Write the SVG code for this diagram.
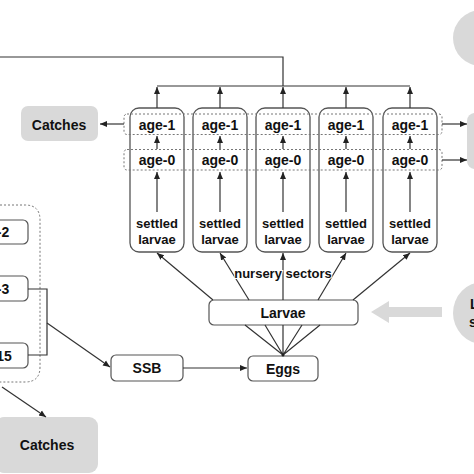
<svg xmlns="http://www.w3.org/2000/svg" width="474" height="474" viewBox="0 0 474 474">
<defs>
<marker id="ah" markerWidth="8" markerHeight="8" refX="7" refY="4" orient="auto" markerUnits="userSpaceOnUse">
<path d="M0,1 L7,4 L0,7 Z" fill="#222"/>
</marker>
<style>
.col{fill:#fff;stroke:#555;stroke-width:1.3}
.box{fill:#fff;stroke:#555;stroke-width:1.2}
.dash{fill:none;stroke:#777;stroke-width:1;stroke-dasharray:2,2}
.gray{fill:#d9d9d9;stroke:none}
.ln{fill:none;stroke:#333;stroke-width:1.2}
.ar{fill:none;stroke:#333;stroke-width:1.2;marker-end:url(#ah)}
text{font-family:"Liberation Sans",Arial,sans-serif;font-weight:bold;fill:#111;text-anchor:middle}
.t14{font-size:14px}
.t13{font-size:13px}
</style>
</defs>
<rect width="474" height="474" fill="#fff"/>

<!-- decorative right-side shapes -->
<g id="ext-top"><ellipse cx="481" cy="38" rx="28" ry="28" class="gray"/></g>
<g id="ext-right"><rect x="467" y="113" width="20" height="56" rx="8" class="gray"/></g>
<g id="ext-larvae-src">
<ellipse cx="483" cy="313" rx="30" ry="31" class="gray"/>
<text x="470" y="309" class="t14" text-anchor="start" style="text-anchor:start">L</text>
<text x="469" y="327" class="t14" style="text-anchor:start">s</text>
</g>
<g id="big-arrow"><path d="M442,307 L389,307 L389,301 L371,312 L389,323 L389,317 L442,317 Z" class="gray"/></g>

<!-- left group -->
<g id="age-group-left">
<path d="M-20,205 L25,205 Q40,205 40,220 L40,367 Q40,382 25,382 L-20,382" class="dash"/>
</g>
<g id="age-2"><rect x="-30" y="220" width="58" height="24" rx="5" class="box"/><text x="3" y="237" class="t14">-2</text></g>
<g id="age-3"><rect x="-30" y="276" width="58" height="25" rx="5" class="box"/><text x="3" y="294" class="t14">-3</text></g>
<g id="age-15"><rect x="-30" y="343" width="58" height="25" rx="5" class="box"/><text x="4" y="361" class="t14">15</text></g>

<!-- columns -->
<g id="col1"><rect x="130" y="108" width="54" height="144" rx="9" class="col"/></g>
<g id="col2"><rect x="193" y="108" width="54" height="144" rx="9" class="col"/></g>
<g id="col3"><rect x="256" y="108" width="54" height="144" rx="9" class="col"/></g>
<g id="col4"><rect x="319" y="108" width="54" height="144" rx="9" class="col"/></g>
<g id="col5"><rect x="383" y="108" width="54" height="144" rx="9" class="col"/></g>

<g id="row-age1"><rect x="124" y="114" width="318" height="20.5" rx="3" class="dash"/></g>
<g id="row-age0"><rect x="124" y="149.5" width="318" height="20.5" rx="3" class="dash"/></g>

<g id="labels">
<text x="157" y="130" class="t14">age-1</text><text x="220" y="130" class="t14">age-1</text><text x="283" y="130" class="t14">age-1</text><text x="346" y="130" class="t14">age-1</text><text x="410" y="130" class="t14">age-1</text>
<text x="157" y="165" class="t14">age-0</text><text x="220" y="165" class="t14">age-0</text><text x="283" y="165" class="t14">age-0</text><text x="346" y="165" class="t14">age-0</text><text x="410" y="165" class="t14">age-0</text>
<text x="157" y="228" class="t13">settled</text><text x="220" y="228" class="t13">settled</text><text x="283" y="228" class="t13">settled</text><text x="346" y="228" class="t13">settled</text><text x="410" y="228" class="t13">settled</text>
<text x="157" y="244" class="t13">larvae</text><text x="220" y="244" class="t13">larvae</text><text x="283" y="244" class="t13">larvae</text><text x="346" y="244" class="t13">larvae</text><text x="410" y="244" class="t13">larvae</text>
</g>

<g id="catches-top"><rect x="21" y="106" width="77" height="35" rx="7" class="gray"/><text x="59" y="130" class="t14">Catches</text></g>
<g id="catches-bottom"><rect x="-5" y="417" width="103" height="56" rx="9" class="gray"/><text x="47" y="450" class="t14">Catches</text></g>
<g id="larvae"><rect x="209" y="300" width="149" height="25" rx="5" class="box"/><text x="283" y="318" class="t14">Larvae</text></g>
<g id="eggs"><rect x="248" y="356" width="70" height="25" rx="5" class="box"/><text x="283" y="374" class="t14">Eggs</text></g>
<g id="ssb"><rect x="111" y="355" width="72" height="26" rx="5" class="box"/><text x="147" y="373" class="t14">SSB</text></g>

<g id="connectors">
<!-- top feedback -->
<path d="M0,57 L283,57 L283,86" class="ln"/>
<path d="M157,86 L410,86" class="ln"/>
<path d="M157,108 L157,87" class="ar"/>
<path d="M220,108 L220,87" class="ar"/>
<path d="M283,108 L283,87" class="ar"/>
<path d="M346,108 L346,87" class="ar"/>
<path d="M410,108 L410,87" class="ar"/>
<!-- age-0 to age-1 -->
<path d="M157,149 L157,136" class="ar"/>
<path d="M220,149 L220,136" class="ar"/>
<path d="M283,149 L283,136" class="ar"/>
<path d="M346,149 L346,136" class="ar"/>
<path d="M410,149 L410,136" class="ar"/>
<!-- settled to age-0 -->
<path d="M157,212 L157,172" class="ar"/>
<path d="M220,212 L220,172" class="ar"/>
<path d="M283,212 L283,172" class="ar"/>
<path d="M346,212 L346,172" class="ar"/>
<path d="M410,212 L410,172" class="ar"/>
<!-- catches / right outputs -->
<path d="M124,124 L100,124" class="ar"/>
<path d="M442,124 L467,124" class="ar"/>
<path d="M442,160 L467,160" class="ar"/>
<!-- larvae to columns -->
<path d="M213,300 L157,253" class="ar"/>
<path d="M249,300 L220,253" class="ar"/>
<path d="M283,300 L283,253" class="ar"/>
<path d="M318,300 L346,253" class="ar"/>
<path d="M353,300 L410,253" class="ar"/>
<!-- eggs to larvae -->
<path d="M283,355 L245,325 M283,355 L265,325 M283,355 L283,325 M283,355 L302,325 M283,355 L320,325" class="ln"/>
<circle cx="283" cy="355" r="1.5" fill="#222"/>
<!-- ssb to eggs -->
<path d="M183,368 L247,368" class="ar"/>
<!-- bracket -->
<path d="M28,289 L47,289 L47,355 L28,355" class="ln"/>
<path d="M47,323 L110,367" class="ar"/>
<path d="M2,387 L46,417" class="ar"/>
</g>
<text x="283" y="278" class="t13" style="paint-order:stroke;stroke:#fff;stroke-width:2">nursery sectors</text>
</svg>
